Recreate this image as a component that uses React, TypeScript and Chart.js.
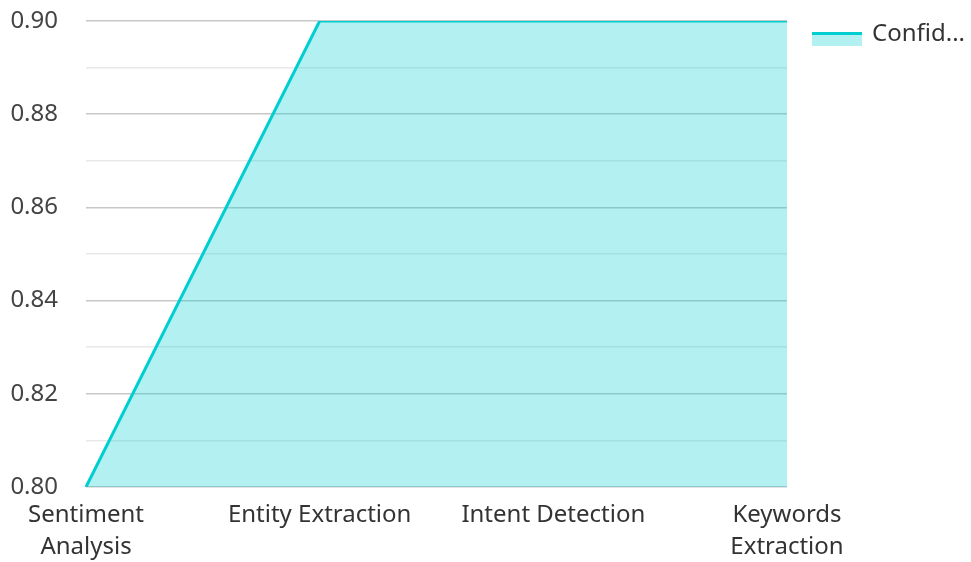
import React, { useEffect, useRef } from "react";
import { Chart, registerables } from "chart.js";

Chart.register(...registerables);

// ---- data ----
const categories: (string | string[])[] = [
  ["Sentiment", "Analysis"],
  "Entity Extraction",
  "Intent Detection",
  ["Keywords", "Extraction"],
];
const confidence = [0.8, 0.9, 0.9, 0.9];
const seriesLabel = "Confidence Score";
const legendText = "Confid...";
const yMin = 0.8;
const yMax = 0.9;
const yStep = 0.01;

// ---- style ----
const lineColor = "#00CED1";
const fillColor = "rgba(0, 206, 209, 0.3)";
const majorGrid = "#c8c8c8";
const minorGrid = "#e8e8e8";
const textColor = "#444";
const fontFamily = '"Noto Sans", "Open Sans", sans-serif';

const legendPlugin = {
  id: "customLegend",
  afterDraw(chart: any) {
    const ctx = chart.ctx as CanvasRenderingContext2D;
    const x = chart.chartArea.right + 25;
    const y = 32;
    ctx.save();
    ctx.fillStyle = fillColor;
    ctx.fillRect(x, y, 50, 14);
    ctx.fillStyle = lineColor;
    ctx.fillRect(x, y, 50, 3);
    ctx.font = `24px ${fontFamily}`;
    ctx.fillStyle = "#333";
    ctx.textBaseline = "middle";
    ctx.textAlign = "left";
    ctx.fillText(legendText, x + 60, y + 2);
    ctx.restore();
  },
};

export default function App() {
  const ref = useRef<HTMLCanvasElement | null>(null);

  useEffect(() => {
    if (!ref.current) return;
    const chart = new Chart(ref.current, {
      type: "line",
      data: {
        labels: categories,
        datasets: [
          {
            label: seriesLabel,
            data: confidence,
            borderColor: lineColor,
            backgroundColor: fillColor,
            borderWidth: 3,
            pointRadius: 0,
            tension: 0,
            fill: "start",
          },
        ],
      },
      options: {
        animation: false,
        responsive: true,
        maintainAspectRatio: false,
        layout: { padding: { top: 0, right: 184, bottom: 0, left: 0 } },
        plugins: {
          legend: { display: false },
          tooltip: { enabled: false },
        },
        scales: {
          x: {
            grid: { display: false, drawTicks: false },
            border: { display: false },
            offset: false,
            afterFit: (scale: any) => {
              scale.height = 75;
              scale.paddingLeft = 0;
              scale.paddingRight = 0;
            },
            ticks: {
              color: "#333",
              font: { family: fontFamily, size: 24, lineHeight: 1.3 },
              padding: 13,
              maxRotation: 0,
              autoSkip: false,
            },
          },
          y: {
            min: yMin,
            max: yMax,
            grid: {
              drawTicks: false,
              color: (c: any) => (c.index % 2 === 0 ? majorGrid : minorGrid),
              lineWidth: 1.5,
            },
            border: { display: false },
            afterFit: (scale: any) => {
              scale.width = 86;
              scale.paddingTop = 21;
              scale.paddingBottom = 0;
            },
            ticks: {
              stepSize: yStep,
              autoSkip: false,
              color: textColor,
              padding: 28,
              font: { family: fontFamily, size: 24 },
              callback: (v: any, i: number) =>
                i % 2 === 0 ? Number(v).toFixed(2) : "",
            },
          },
        },
      },
      plugins: [legendPlugin],
    });
    return () => chart.destroy();
  }, []);

  return (
    <div
      style={{
        position: "fixed",
        left: 0,
        top: 0,
        width: 971,
        height: 562,
        background: "#fff",
      }}
    >
      <canvas ref={ref} />
    </div>
  );
}
